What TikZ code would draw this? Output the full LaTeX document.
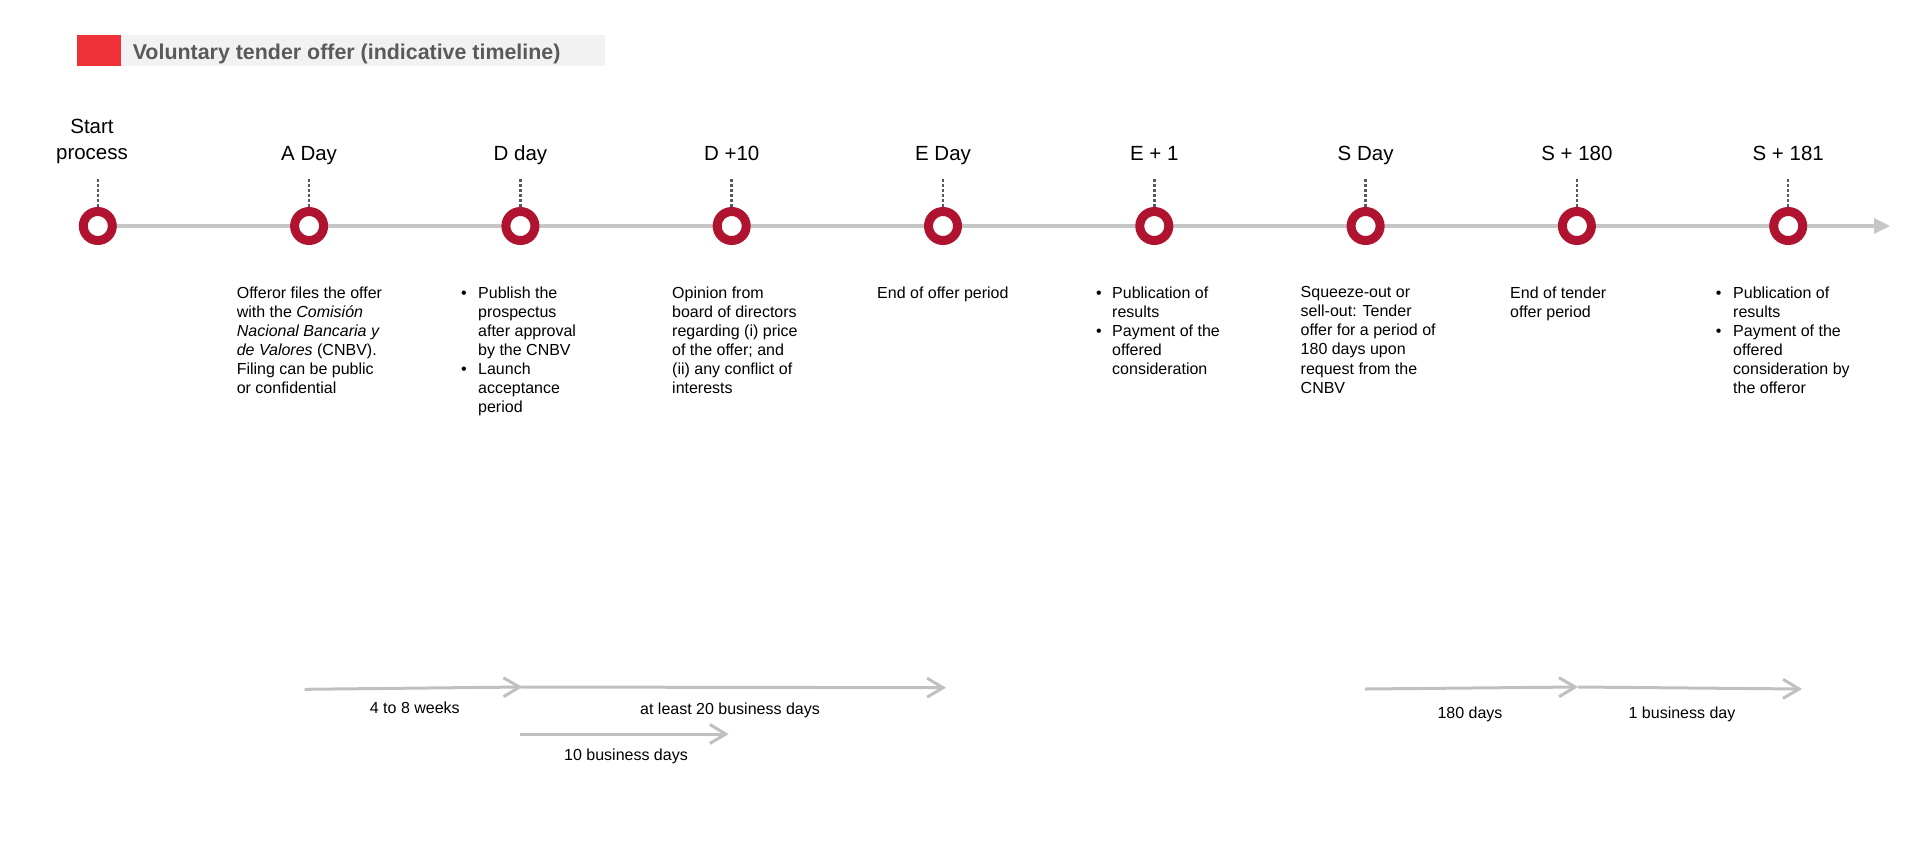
\documentclass[tikz,border=0pt]{standalone}
\usepackage{fontspec}
\setmainfont{Liberation Sans}
\usetikzlibrary{arrows.meta}
\definecolor{crim}{HTML}{B0132F}
\definecolor{titlered}{HTML}{EE3237}
\definecolor{band}{HTML}{F2F2F2}
\definecolor{titletext}{HTML}{5A5A5A}
\definecolor{linegray}{HTML}{C6C6C6}
\definecolor{spangray}{HTML}{C0C0C0}
\definecolor{dotc}{HTML}{595959}
\tikzset{
  ring/.style={circle, draw=crim, line width=9pt, fill=white, minimum size=29pt, inner sep=0pt},
  ticker/.style={draw=dotc, line width=2.5pt, dash pattern=on 2.5pt off 2.5pt},
  lbl/.style={font=\fontsize{20.5}{26}\selectfont, align=center, inner sep=0pt, anchor=base},
  desc/.style={font=\fontsize{16}{19.1}\selectfont, align=left, anchor=north west, inner sep=0pt},
  bul/.style={font=\fontsize{16}{19.1}\selectfont, inner sep=0pt, anchor=base west},
  spanarrow/.style={draw=spangray, line width=3pt, -{Straight Barb[length=16pt,width=19pt]}},
  spanlbl/.style={font=\fontsize{16}{19}\selectfont, anchor=base, inner sep=0pt},
  timeline/.style={draw=linegray, line width=3.5pt, -{Triangle[length=16pt,width=15pt]}},
}
\begin{document}
\begin{tikzpicture}[x=1pt, y=-1pt]
\useasboundingbox (0,0) rectangle (1917,863);
% title
\fill[band] (121,35) rectangle (605,66);
\fill[titlered] (76.8,35) rectangle (121,66);
\node[anchor=base west, inner sep=0pt, text=titletext, font=\fontsize{21.4}{24}\selectfont\bfseries] (title) at (132.6,59.7) {Voluntary tender offer (indicative timeline)};
% timeline
\coordinate (tend) at (1890,226);
\foreach \i in {0,...,8} {
  \coordinate (p\i) at (97.8+211.3*\i,226);
  \coordinate (t\i) at (97.8+211.3*\i,179);
}
\draw[timeline] (p0) -- (tend);
\foreach \i in {0,...,8} {
  \node[ring] (c\i) at (p\i) {};
  \draw[ticker] (t\i) -- (c\i.north);
}
% labels
\node[lbl, anchor=north] (l0) at (92,119) {Start\\process};
\node[lbl] (l1) at (309.1,160.3) {A Day};
\node[lbl] (l2) at (520.4,160.3) {D day};
\node[lbl] (l3) at (731.7,160.3) {D +10};
\node[lbl] (l4) at (943.0,160.3) {E Day};
\node[lbl] (l5) at (1154.3,160.3) {E + 1};
\node[lbl] (l6) at (1365.6,160.3) {S Day};
\node[lbl] (l7) at (1576.9,160.3) {S + 180};
\node[lbl] (l8) at (1788.2,160.3) {S + 181};
% descriptions
\node[desc] (d1) at (236.6,286.3) {Offeror files the offer\\with the \textit{Comisión}\\\textit{Nacional Bancaria y}\\\textit{de Valores} (CNBV).\\Filing can be public\\or confidential};
\node[bul] (b2a) at (461,298) {•};
\node[bul] (b2b) at (461,374.4) {•};
\node[desc] (d2) at (478,286.3) {Publish the\\prospectus\\after approval\\by the CNBV\\Launch\\acceptance\\period};
\node[desc] (d3) at (672,286.3) {Opinion from\\board of directors\\regarding (i) price\\of the offer; and\\(ii) any conflict of\\interests};
\node[desc] (d4) at (877,286.3) {End of offer period};
\node[bul] (b5a) at (1096,298) {•};
\node[bul] (b5b) at (1096,336.2) {•};
\node[desc] (d5) at (1112,286.3) {Publication of\\results\\Payment of the\\offered\\consideration};
\node[desc] (d6) at (1300.5,286.3) {Squeeze-out or\\sell-out: Tender\\offer for a period of\\180 days upon\\request from the\\CNBV};
\node[desc] (d7) at (1510,286.3) {End of tender\\offer period};
\node[bul] (b8a) at (1715.6,298) {•};
\node[bul] (b8b) at (1715.6,336.2) {•};
\node[desc] (d8) at (1733,286.3) {Publication of\\results\\Payment of the\\offered\\consideration by\\the offeror};
% span arrows
\coordinate (s1a) at (304.6,689.3);
\coordinate (s1b) at (522.4,687);
\coordinate (s2a) at (521,687);
\coordinate (s2b) at (946,687.7);
\coordinate (s3a) at (519.7,734);
\coordinate (s3b) at (728.7,734);
\coordinate (s4a) at (1365,689);
\coordinate (s4b) at (1578,687);
\coordinate (s5a) at (1578,687);
\coordinate (s5b) at (1802,689);
\draw[spanarrow] (s1a) -- (s1b);
\draw[spanarrow] (s2a) -- (s2b);
\draw[spanarrow] (s3a) -- (s3b);
\draw[spanarrow] (s4a) -- (s4b);
\draw[spanarrow] (s5a) -- (s5b);
\node[spanlbl] (w1) at (414.8,713.4) {4 to 8 weeks};
\node[spanlbl] (w2) at (730,714.7) {at least 20 business days};
\node[spanlbl] (w3) at (626,760) {10 business days};
\node[spanlbl] (w4) at (1470,718.4) {180 days};
\node[spanlbl] (w5) at (1682,718.4) {1 business day};
\end{tikzpicture}
\end{document}
